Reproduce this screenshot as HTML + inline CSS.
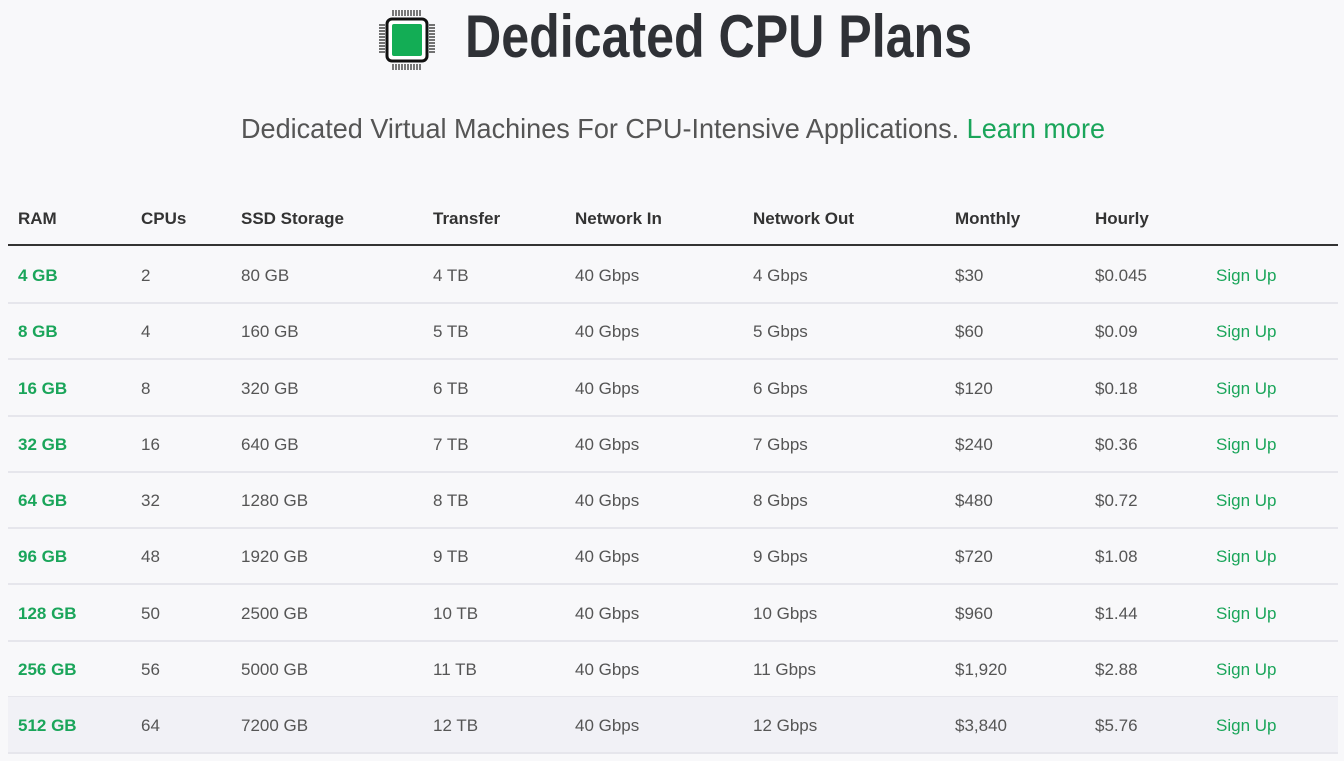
<!DOCTYPE html>
<html><head><meta charset="utf-8"><style>
body{margin:0;width:1344px;height:761px;background:#f8f8fa;font-family:"Liberation Sans",sans-serif;position:relative;overflow:hidden}
.a{position:absolute;white-space:nowrap}
.h{font-weight:bold;font-size:17px;color:#333;top:209px}
.c{font-size:17px;color:#555}
.g{color:#1aa55a}
.b{font-weight:bold}
.sep{position:absolute;left:8px;width:1330px;height:2px;background:#e6e6ec}
</style></head><body>
<svg class="a" style="left:378px;top:5px" width="60" height="70" viewBox="0 0 60 70">
<g stroke="#222" stroke-width="1.2">
<path d="M15 5v6M18 5v6M21 5v6M24 5v6M27 5v6M30 5v6M33 5v6M36 5v6M39 5v6M42 5v6M15 59v6M18 59v6M21 59v6M24 59v6M27 59v6M30 59v6M33 59v6M36 59v6M39 59v6M42 59v6"/>
<path d="M1 20h6M1 23h6M1 26h6M1 29h6M1 32h6M1 35h6M1 38h6M1 41h6M1 44h6M1 47h6M51 20h6M51 23h6M51 26h6M51 29h6M51 32h6M51 35h6M51 38h6M51 41h6M51 44h6M51 47h6"/>
</g>
<rect x="9" y="14" width="40" height="42" rx="5" fill="#fff" stroke="#111" stroke-width="3"/>
<rect x="14" y="19" width="30" height="32" rx="2" fill="#13ad55"/>
</svg>
<div id="title" class="a" style="left:465px;top:2px;font-size:60px;font-weight:bold;color:#2f3136;transform-origin:0 0">Dedicated CPU Plans</div>
<div id="sub" class="a" style="left:241px;top:113px;font-size:28px;color:#555;transform-origin:0 0">Dedicated Virtual Machines For CPU-Intensive Applications. <span class="g">Learn more</span></div>
<div id="t"></div>
<div style="position:absolute;left:8px;top:244px;width:1330px;height:2px;background:#333"></div>
<script>
function fit(id,w){var e=document.getElementById(id);var s=w/e.getBoundingClientRect().width;e.style.transform='scaleX('+s+')';}
fit('title',507);fit('sub',864);
const cols=[18,141,241,433,575,753,955,1095,1216];
const heads=['RAM','CPUs','SSD Storage','Transfer','Network In','Network Out','Monthly','Hourly'];
const ram=['4 GB','8 GB','16 GB','32 GB','64 GB','96 GB','128 GB','256 GB','512 GB'];
const cpus=['2','4','8','16','32','48','50','56','64'];
const ssd=['80 GB','160 GB','320 GB','640 GB','1280 GB','1920 GB','2500 GB','5000 GB','7200 GB'];
const transfer=['4 TB','5 TB','6 TB','7 TB','8 TB','9 TB','10 TB','11 TB','12 TB'];
const netOut=['4 Gbps','5 Gbps','6 Gbps','7 Gbps','8 Gbps','9 Gbps','10 Gbps','11 Gbps','12 Gbps'];
const monthly=['$30','$60','$120','$240','$480','$720','$960','$1,920','$3,840'];
const hourly=['$0.045','$0.09','$0.18','$0.36','$0.72','$1.08','$1.44','$2.88','$5.76'];
const t=document.getElementById('t');
heads.forEach((h,i)=>{const d=document.createElement('div');d.className='a h';d.style.left=cols[i]+'px';d.textContent=h;


t.appendChild(d);});
ram.forEach((r,j)=>{
 const top=247+j*56.25;
 if(j==8){const bg=document.createElement('div');bg.style.cssText='position:absolute;left:8px;width:1330px;top:'+top+'px;height:56px;background:#f1f1f6';
 
 
 t.appendChild(bg);}
 const vals=[r,cpus[j],ssd[j],transfer[j],'40 Gbps',netOut[j],monthly[j],hourly[j],'Sign Up'];
 vals.forEach((v,i)=>{const d=document.createElement('div');d.className='a c'+(i==0?' g b':'')+(i==8?' g':'');
 d.style.left=cols[i]+'px';d.style.top=(top+19)+'px';d.textContent=v;
 
 
 t.appendChild(d);});
 const s=document.createElement('div');s.className='sep';s.style.top=(top+55)+'px';
 
 
 t.appendChild(s);
});
</script>
</body></html>
